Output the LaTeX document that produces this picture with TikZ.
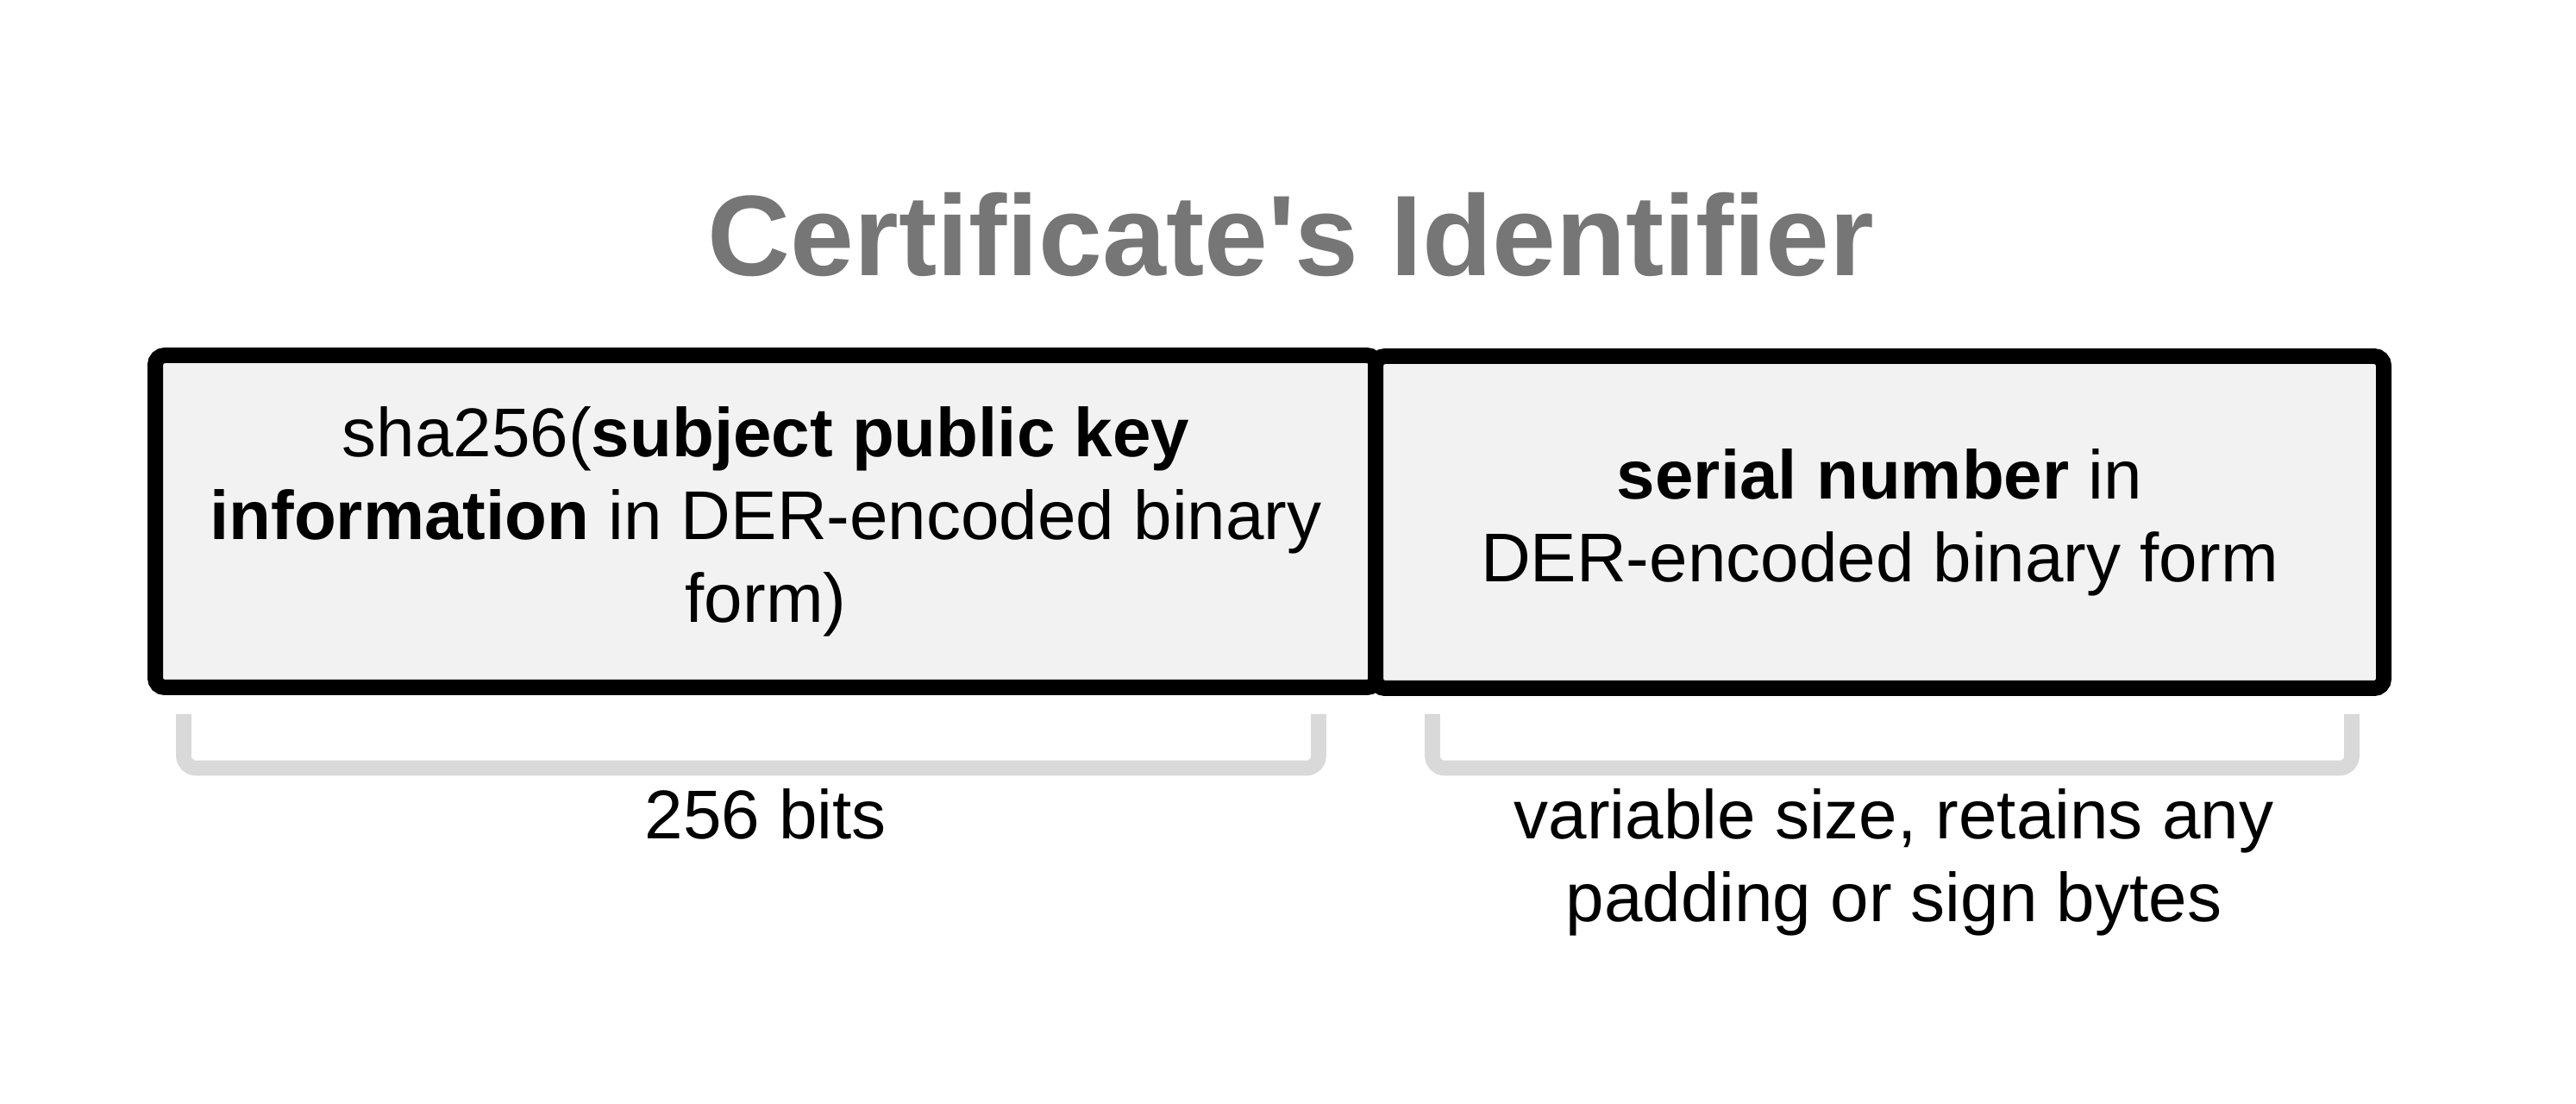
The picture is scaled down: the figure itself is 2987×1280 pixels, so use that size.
\documentclass[tikz,border=0pt]{standalone}
\usepackage{fontspec}
\setmainfont{Liberation Sans}
\definecolor{titlegray}{RGB}{118,118,118}
\definecolor{boxfill}{RGB}{242,242,242}
\definecolor{bracegray}{RGB}{217,217,217}
\begin{document}
\begin{tikzpicture}[x=0.25pt,y=-0.25pt,
  cell/.style={draw=black, fill=boxfill, line width=4.5pt, rounded corners=2.75pt,
    inner sep=0pt, align=center, font=\fontsize{20}{24}\selectfont},
  bracket/.style={draw=bracegray, line width=4.4pt, rounded corners=3.5pt, line cap=butt},
  caption/.style={font=\fontsize{20}{24}\selectfont, align=center, inner sep=0pt},
  heading/.style={font=\fontsize{33.2}{40}\selectfont\bfseries, text=titlegray, inner sep=0pt}]
\useasboundingbox (0,0) rectangle (2987,1280);
\node[heading, anchor=base] (title) at (1497,320) {Certificate\textquotesingle s Identifier};
\node[cell, minimum width=354pt, minimum height=96.25pt] (hash) at (888,604.5)
  {sha256(\textbf{subject public key}\\ \textbf{information} in DER-encoded binary\\ form)};
\node[cell, minimum width=292.25pt, minimum height=96.25pt] (serial) at (2179.5,605.5)
  {\textbf{serial number} in\\ DER-encoded binary form};
\coordinate (lb1) at (213,828);
\coordinate (lb1b) at (213,890.5);
\coordinate (lb2b) at (1529,890.5);
\coordinate (lb2) at (1529,828);
\coordinate (rb1) at (1661,828);
\coordinate (rb1b) at (1661,890.5);
\coordinate (rb2b) at (2727,890.5);
\coordinate (rb2) at (2727,828);
\draw[bracket] (lb1) -- (lb1b) -- (lb2b) -- (lb2);
\draw[bracket] (rb1) -- (rb1b) -- (rb2b) -- (rb2);
\node[caption, anchor=base] (bits) at (888,973) {256 bits};
\node[caption] (var) at (2196,1000) {variable size, retains any\\ padding or sign bytes};
\end{tikzpicture}
\end{document}
